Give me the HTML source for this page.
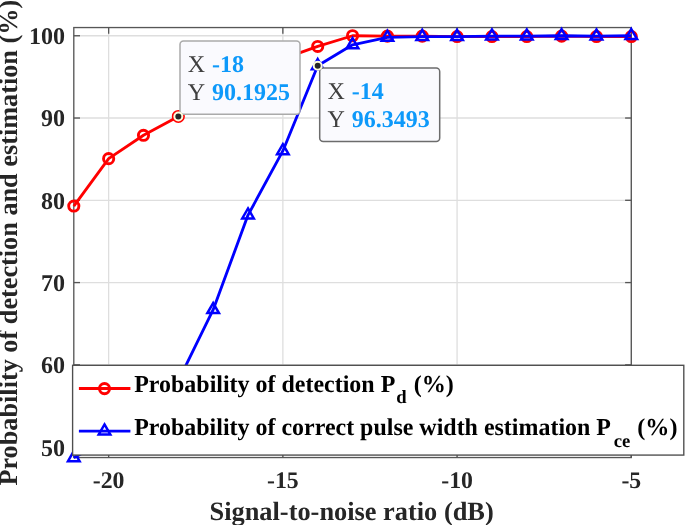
<!DOCTYPE html>
<html><head><meta charset="utf-8"><title>Probability of detection and estimation</title>
<style>html,body{margin:0;padding:0;background:#fff;overflow:hidden}svg{display:block}text{text-rendering:geometricPrecision;font-family:"Liberation Serif",serif;font-weight:bold;fill:#262626}</style></head><body>
<svg width="685" height="525" viewBox="0 0 685 525">
<rect width="685" height="525" fill="#fff"/>
<line x1="108.64" y1="27.55" x2="108.64" y2="457.55" stroke="#dedede" stroke-width="1.3"/>
<line x1="282.86" y1="27.55" x2="282.86" y2="457.55" stroke="#dedede" stroke-width="1.3"/>
<line x1="457.08" y1="27.55" x2="457.08" y2="457.55" stroke="#dedede" stroke-width="1.3"/>
<line x1="631.30" y1="27.55" x2="631.30" y2="457.55" stroke="#dedede" stroke-width="1.3"/>
<line x1="73.8" y1="447.12" x2="631.3" y2="447.12" stroke="#dedede" stroke-width="1.3"/>
<line x1="73.8" y1="364.85" x2="631.3" y2="364.85" stroke="#dedede" stroke-width="1.3"/>
<line x1="73.8" y1="282.57" x2="631.3" y2="282.57" stroke="#dedede" stroke-width="1.3"/>
<line x1="73.8" y1="200.30" x2="631.3" y2="200.30" stroke="#dedede" stroke-width="1.3"/>
<line x1="73.8" y1="118.02" x2="631.3" y2="118.02" stroke="#dedede" stroke-width="1.3"/>
<line x1="73.8" y1="35.75" x2="631.3" y2="35.75" stroke="#dedede" stroke-width="1.3"/>
<rect x="73.8" y="27.55" width="557.50" height="430.00" fill="none" stroke="#565656" stroke-width="1.33"/>
<line x1="108.64" y1="457.55" x2="108.64" y2="451.35" stroke="#565656" stroke-width="1.33"/>
<line x1="108.64" y1="27.55" x2="108.64" y2="33.75" stroke="#565656" stroke-width="1.33"/>
<line x1="282.86" y1="457.55" x2="282.86" y2="451.35" stroke="#565656" stroke-width="1.33"/>
<line x1="282.86" y1="27.55" x2="282.86" y2="33.75" stroke="#565656" stroke-width="1.33"/>
<line x1="457.08" y1="457.55" x2="457.08" y2="451.35" stroke="#565656" stroke-width="1.33"/>
<line x1="457.08" y1="27.55" x2="457.08" y2="33.75" stroke="#565656" stroke-width="1.33"/>
<line x1="631.30" y1="457.55" x2="631.30" y2="451.35" stroke="#565656" stroke-width="1.33"/>
<line x1="631.30" y1="27.55" x2="631.30" y2="33.75" stroke="#565656" stroke-width="1.33"/>
<line x1="73.8" y1="447.12" x2="80.0" y2="447.12" stroke="#565656" stroke-width="1.33"/>
<line x1="631.3" y1="447.12" x2="625.0999999999999" y2="447.12" stroke="#565656" stroke-width="1.33"/>
<line x1="73.8" y1="364.85" x2="80.0" y2="364.85" stroke="#565656" stroke-width="1.33"/>
<line x1="631.3" y1="364.85" x2="625.0999999999999" y2="364.85" stroke="#565656" stroke-width="1.33"/>
<line x1="73.8" y1="282.57" x2="80.0" y2="282.57" stroke="#565656" stroke-width="1.33"/>
<line x1="631.3" y1="282.57" x2="625.0999999999999" y2="282.57" stroke="#565656" stroke-width="1.33"/>
<line x1="73.8" y1="200.30" x2="80.0" y2="200.30" stroke="#565656" stroke-width="1.33"/>
<line x1="631.3" y1="200.30" x2="625.0999999999999" y2="200.30" stroke="#565656" stroke-width="1.33"/>
<line x1="73.8" y1="118.02" x2="80.0" y2="118.02" stroke="#565656" stroke-width="1.33"/>
<line x1="631.3" y1="118.02" x2="625.0999999999999" y2="118.02" stroke="#565656" stroke-width="1.33"/>
<line x1="73.8" y1="35.75" x2="80.0" y2="35.75" stroke="#565656" stroke-width="1.33"/>
<line x1="631.3" y1="35.75" x2="625.0999999999999" y2="35.75" stroke="#565656" stroke-width="1.33"/>
<text x="64.9" y="455.52" font-size="24" text-anchor="end">50</text>
<text x="64.9" y="373.25" font-size="24" text-anchor="end">60</text>
<text x="64.9" y="290.97" font-size="24" text-anchor="end">70</text>
<text x="64.9" y="208.70" font-size="24" text-anchor="end">80</text>
<text x="64.9" y="126.42" font-size="24" text-anchor="end">90</text>
<text x="64.9" y="44.15" font-size="24" text-anchor="end">100</text>
<text x="108.64" y="488.0" font-size="23.8" text-anchor="middle">-20</text>
<text x="282.86" y="488.0" font-size="23.8" text-anchor="middle">-15</text>
<text x="457.08" y="488.0" font-size="23.8" text-anchor="middle">-10</text>
<text x="631.30" y="488.0" font-size="23.8" text-anchor="middle">-5</text>
<text x="351.6" y="519.8" font-size="26.4" text-anchor="middle" textLength="284.2" lengthAdjust="spacingAndGlyphs">Signal-to-noise ratio (dB)</text>
<text transform="translate(17.3 242.7) rotate(-90)" font-size="26.4" text-anchor="middle" textLength="485.8" lengthAdjust="spacingAndGlyphs">Probability of detection and estimation (%)</text>
<polyline points="73.80,206.06 108.64,158.67 143.49,135.30 178.33,116.44 213.18,96.63 248.02,77.71 282.86,58.79 317.71,46.45 352.55,35.75 387.39,36.16 422.24,36.16 457.08,36.57 491.93,36.57 526.77,36.57 561.61,36.16 596.46,36.57 631.30,36.57" fill="none" stroke="#ff0000" stroke-width="2.85" stroke-linejoin="round"/>
<circle cx="73.80" cy="206.06" r="5.1" fill="none" stroke="#ff0000" stroke-width="2.9"/>
<circle cx="108.64" cy="158.67" r="5.1" fill="none" stroke="#ff0000" stroke-width="2.9"/>
<circle cx="143.49" cy="135.30" r="5.1" fill="none" stroke="#ff0000" stroke-width="2.9"/>
<circle cx="178.33" cy="116.44" r="5.1" fill="none" stroke="#ff0000" stroke-width="2.9"/>
<circle cx="213.18" cy="96.63" r="5.1" fill="none" stroke="#ff0000" stroke-width="2.9"/>
<circle cx="248.02" cy="77.71" r="5.1" fill="none" stroke="#ff0000" stroke-width="2.9"/>
<circle cx="282.86" cy="58.79" r="5.1" fill="none" stroke="#ff0000" stroke-width="2.9"/>
<circle cx="317.71" cy="46.45" r="5.1" fill="none" stroke="#ff0000" stroke-width="2.9"/>
<circle cx="352.55" cy="35.75" r="5.1" fill="none" stroke="#ff0000" stroke-width="2.9"/>
<circle cx="387.39" cy="36.16" r="5.1" fill="none" stroke="#ff0000" stroke-width="2.9"/>
<circle cx="422.24" cy="36.16" r="5.1" fill="none" stroke="#ff0000" stroke-width="2.9"/>
<circle cx="457.08" cy="36.57" r="5.1" fill="none" stroke="#ff0000" stroke-width="2.9"/>
<circle cx="491.93" cy="36.57" r="5.1" fill="none" stroke="#ff0000" stroke-width="2.9"/>
<circle cx="526.77" cy="36.57" r="5.1" fill="none" stroke="#ff0000" stroke-width="2.9"/>
<circle cx="561.61" cy="36.16" r="5.1" fill="none" stroke="#ff0000" stroke-width="2.9"/>
<circle cx="596.46" cy="36.57" r="5.1" fill="none" stroke="#ff0000" stroke-width="2.9"/>
<circle cx="631.30" cy="36.57" r="5.1" fill="none" stroke="#ff0000" stroke-width="2.9"/>
<polyline points="73.80,457.82 108.64,438.90 143.49,414.21 178.33,380.89 213.18,309.73 248.02,215.11 282.86,150.94 317.71,65.79 352.55,44.80 387.39,37.40 422.24,36.57 457.08,36.57 491.93,36.16 526.77,36.16 561.61,35.75 596.46,36.16 631.30,35.75" fill="none" stroke="#0000ff" stroke-width="2.85" stroke-linejoin="round"/>
<path d="M73.80 451.12L79.60 461.17L68.00 461.17Z" fill="none" stroke="#0000ff" stroke-width="2.5" stroke-linejoin="miter"/>
<path d="M108.64 432.20L114.45 442.25L102.84 442.25Z" fill="none" stroke="#0000ff" stroke-width="2.5" stroke-linejoin="miter"/>
<path d="M143.49 407.51L149.29 417.56L137.69 417.56Z" fill="none" stroke="#0000ff" stroke-width="2.5" stroke-linejoin="miter"/>
<path d="M178.33 374.19L184.13 384.24L172.53 384.24Z" fill="none" stroke="#0000ff" stroke-width="2.5" stroke-linejoin="miter"/>
<path d="M213.18 303.03L218.98 313.08L207.37 313.08Z" fill="none" stroke="#0000ff" stroke-width="2.5" stroke-linejoin="miter"/>
<path d="M248.02 208.41L253.82 218.46L242.22 218.46Z" fill="none" stroke="#0000ff" stroke-width="2.5" stroke-linejoin="miter"/>
<path d="M282.86 144.24L288.66 154.28L277.06 154.28Z" fill="none" stroke="#0000ff" stroke-width="2.5" stroke-linejoin="miter"/>
<path d="M317.71 59.09L323.51 69.14L311.90 69.14Z" fill="none" stroke="#0000ff" stroke-width="2.5" stroke-linejoin="miter"/>
<path d="M352.55 38.10L358.35 48.15L346.75 48.15Z" fill="none" stroke="#0000ff" stroke-width="2.5" stroke-linejoin="miter"/>
<path d="M387.39 30.70L393.20 40.75L381.59 40.75Z" fill="none" stroke="#0000ff" stroke-width="2.5" stroke-linejoin="miter"/>
<path d="M422.24 29.87L428.04 39.92L416.44 39.92Z" fill="none" stroke="#0000ff" stroke-width="2.5" stroke-linejoin="miter"/>
<path d="M457.08 29.87L462.88 39.92L451.28 39.92Z" fill="none" stroke="#0000ff" stroke-width="2.5" stroke-linejoin="miter"/>
<path d="M491.93 29.46L497.73 39.51L486.12 39.51Z" fill="none" stroke="#0000ff" stroke-width="2.5" stroke-linejoin="miter"/>
<path d="M526.77 29.46L532.57 39.51L520.97 39.51Z" fill="none" stroke="#0000ff" stroke-width="2.5" stroke-linejoin="miter"/>
<path d="M561.61 29.05L567.41 39.10L555.81 39.10Z" fill="none" stroke="#0000ff" stroke-width="2.5" stroke-linejoin="miter"/>
<path d="M596.46 29.46L602.26 39.51L590.65 39.51Z" fill="none" stroke="#0000ff" stroke-width="2.5" stroke-linejoin="miter"/>
<path d="M631.30 29.05L637.10 39.10L625.50 39.10Z" fill="none" stroke="#0000ff" stroke-width="2.5" stroke-linejoin="miter"/>
<rect x="72.6" y="365.3" width="611.2" height="89.78" fill="#fff" stroke="#4e4e4e" stroke-width="1.37"/>
<line x1="78.9" y1="388.5" x2="130.4" y2="388.5" stroke="#ff0000" stroke-width="2.85"/>
<circle cx="104.50" cy="388.60" r="5.1" fill="none" stroke="#ff0000" stroke-width="2.9"/>
<line x1="78.9" y1="431.1" x2="130.4" y2="431.1" stroke="#0000ff" stroke-width="2.85"/>
<path d="M104.50 424.40L110.30 434.45L98.70 434.45Z" fill="none" stroke="#0000ff" stroke-width="2.5" stroke-linejoin="miter"/>
<text x="134.2" y="391.7" font-size="24.3" style="fill:#000" lengthAdjust="spacingAndGlyphs" textLength="261.1">Probability of detection P</text>
<text x="396.3" y="403.0" font-size="18.7" style="fill:#000">d</text>
<text x="413.7" y="391.7" font-size="24.3" style="fill:#000" lengthAdjust="spacingAndGlyphs" textLength="40.2">(%)</text>
<text x="134.2" y="434.6" font-size="24.3" style="fill:#000" lengthAdjust="spacingAndGlyphs" textLength="476.8">Probability of correct pulse width estimation P</text>
<text x="613.7" y="446.6" font-size="18.7" style="fill:#000">ce</text>
<text x="637.3" y="434.6" font-size="24.3" style="fill:#000" lengthAdjust="spacingAndGlyphs" textLength="40.2">(%)</text>
<rect x="180" y="41.1" width="120" height="73.2" rx="3.5" fill="#fafafe" stroke="#aaaaaa" stroke-width="1.5"/>
<text x="187.8" y="71.8" font-size="24" style="font-weight:normal;fill:#404040">X <tspan x="212.1" style="font-weight:bold;fill:#0d99fa">-18</tspan></text>
<text x="187.8" y="99.5" font-size="24" style="font-weight:normal;fill:#404040">Y <tspan x="212.1" style="font-weight:bold;fill:#0d99fa">90.1925</tspan></text>
<circle cx="178.33" cy="116.44" r="4.0" fill="#262626" stroke="#fbfbdc" stroke-width="2"/>
<rect x="319.7" y="68.0" width="120" height="73.5" rx="3.5" fill="#fafafe" stroke="#6c6c6c" stroke-width="1.5"/>
<text x="327.5" y="99.0" font-size="24" style="font-weight:normal;fill:#404040">X <tspan x="351.8" style="font-weight:bold;fill:#0d99fa">-14</tspan></text>
<text x="327.5" y="126.7" font-size="24" style="font-weight:normal;fill:#404040">Y <tspan x="351.8" style="font-weight:bold;fill:#0d99fa">96.3493</tspan></text>
<circle cx="317.71" cy="65.79" r="4.0" fill="#262626" stroke="#fbfbdc" stroke-width="2"/>
</svg></body></html>
